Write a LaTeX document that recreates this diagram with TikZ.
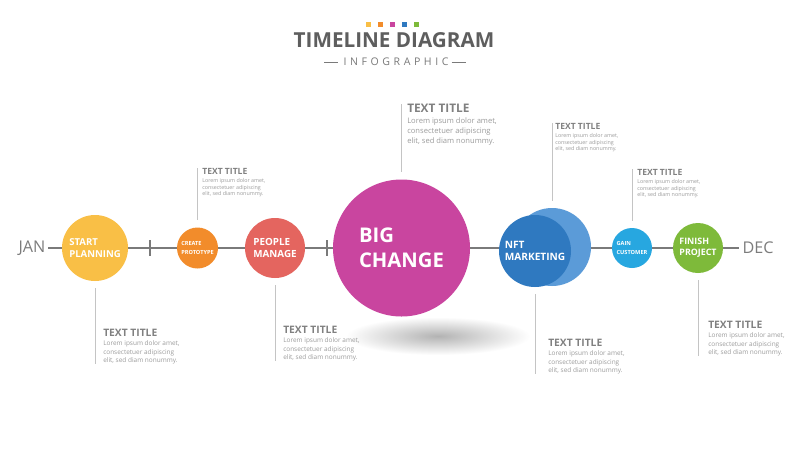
\documentclass[tikz,border=0pt]{standalone}
\usepackage{fontspec}
\setmainfont{Open Sans}
\usepackage{xcolor}
\usetikzlibrary{positioning}

\definecolor{cyel}{HTML}{F9BF46}
\definecolor{corg}{HTML}{F28C2B}
\definecolor{cred}{HTML}{E4655F}
\definecolor{cmag}{HTML}{C9459F}
\definecolor{cblu}{HTML}{2F79C0}
\definecolor{cblul}{HTML}{5B9BD8}
\definecolor{ccya}{HTML}{27A7E0}
\definecolor{cgrn}{HTML}{7EBA3A}
\definecolor{hgray}{HTML}{5E5E5E}
\definecolor{tgray}{HTML}{808080}
\definecolor{bgray}{HTML}{9C9C9C}
\definecolor{mgray}{HTML}{7C7C7C}
\definecolor{agray}{HTML}{7A7A7A}
\definecolor{lgray}{HTML}{C4C4C4}

\newcommand{\pxu}{0.025cm}
\newcommand{\lorem}{Lorem ipsum dolor amet,\\consectetuer adipiscing\\elit, sed diam nonummy.}

\begin{document}
\begin{tikzpicture}[x=0.025cm,y=-0.025cm,
      dot/.style={circle,inner sep=0pt,align=left,text=white},
      month/.style={text=mgray,inner sep=2pt,font=\fontsize{11.5}{13}\selectfont},
      ttlL/.style={anchor=north west,inner sep=0pt,text=tgray,font=\fontsize{7.3}{8.5}\selectfont\bfseries},
      bodyL/.style={inner sep=0pt,align=left,text=bgray,font=\fontsize{4.6}{6}\selectfont},
      ttlB/.style={anchor=north west,inner sep=0pt,text=tgray,font=\fontsize{8.4}{10}\selectfont\bfseries},
      bodyB/.style={inner sep=0pt,align=left,text=bgray,font=\fontsize{5.4}{6.8}\selectfont},
      ttlS/.style={anchor=north west,inner sep=0pt,text=tgray,font=\fontsize{6.1}{7}\selectfont\bfseries},
      bodyS/.style={inner sep=0pt,align=left,text=bgray,font=\fontsize{3.8}{4.7}\selectfont},
      lead/.style={draw=lgray,line width=0.6pt},
      axis/.style={draw=agray,line width=0.8pt}]
    \useasboundingbox[fill=white] (0,0) rectangle (800,449);

    % heading
    \foreach \c [count=\i] in {cyel,corg,cmag,cblu,cgrn} {
      \fill[\c] (354+12*\i,22) rectangle ++(5,5);
    }
    \node[text=hgray,font=\fontsize{14.7}{16}\selectfont\bfseries] (head) at (394,40) {TIMELINE DIAGRAM};
    \node[text=agray,inner sep=0pt,font=\fontsize{7.5}{9}\selectfont\addfontfeature{LetterSpace=34}] (info) at (396,62) {INFOGRAPHIC};
    \draw[axis,line width=0.5pt] ([xshift=-4pt]info.west) -- ++(-14,0);
    \draw[axis,line width=0.5pt] ([xshift=2pt]info.east) -- ++(14,0);

    % shadow under the big circle
    \shade[inner color=black!30,outer color=white] (438,336) ellipse [x radius=92,y radius=19];

    % timeline
    \node[month] (jan) at (32,248) {JAN};
    \node[month] (dec) at (758,248) {DEC};
    \draw[axis] (jan.east) -- (dec.west);
    \foreach \tx in {150,327} {
      \draw[axis] (\tx,240) -- (\tx,256);
    }

    \node[dot,fill=cyel,minimum size=66*\pxu,font=\fontsize{6.8}{8.5}\selectfont\bfseries] (sp) at (95,248) {START\\PLANNING};
    \node[dot,fill=corg,minimum size=41*\pxu,font=\fontsize{4}{6}\selectfont\bfseries] (cp) at (197.5,248) {CREATE\\PROTOTYPE};
    \node[dot,fill=cred,minimum size=60*\pxu,font=\fontsize{7}{8.5}\selectfont\bfseries] (pm) at (275,248) {PEOPLE\\MANAGE};
    \node[dot,fill=cmag,minimum size=137*\pxu,font=\fontsize{14.4}{17.6}\selectfont\bfseries] (bc) at (401.5,248) {BIG\\CHANGE};
    \node[dot,fill=cblul,minimum size=78*\pxu] (nftb) at (552,247) {};
    \node[dot,fill=cblu,minimum size=72*\pxu,font=\fontsize{7.2}{9}\selectfont\bfseries] (nftf) at (535,251) {NFT\\MARKETING};
    \node[dot,fill=ccya,minimum size=40*\pxu,font=\fontsize{4}{6}\selectfont\bfseries] (gc) at (632,248) {GAIN\\CUSTOMER};
    \node[dot,fill=cgrn,minimum size=50*\pxu,font=\fontsize{6.3}{8}\selectfont\bfseries] (fp) at (698,248) {FINISH\\PROJECT};

    % notes below the line
    \foreach \c/\x/\y/\n in {sp/103/329/2,pm/283/326/3,nftf/548/339/7,fp/708/321/8} {
      \node[ttlL] (t\n) at (\x,\y) {TEXT TITLE};
      \node[bodyL,below=2.5pt of t\n.south west,anchor=north west] (b\n) {\lorem};
      \draw[lead,shorten <=5pt] (\c.south) -- (\c.south |- b\n.south);
    }

    % notes above the line
    \foreach \c/\x/\y/\n in {cp/202/168/1,nftb/555/123/5,gc/637/169/6} {
      \node[ttlS] (t\n) at (\x,\y) {TEXT TITLE};
      \node[bodyS,below=2.6pt of t\n.south west,anchor=north west] (b\n) {\lorem};
      \draw[lead,shorten >=5pt] (\c.north |- t\n.north) -- (\c.north);
    }
    \node[ttlB] (t4) at (407,104) {TEXT TITLE};
    \node[bodyB,below=3.5pt of t4.south west,anchor=north west] (b4) {\lorem};
    \draw[lead,shorten >=5pt] (bc.north |- t4.north) -- (bc.north);
  \end{tikzpicture}
\end{document}
